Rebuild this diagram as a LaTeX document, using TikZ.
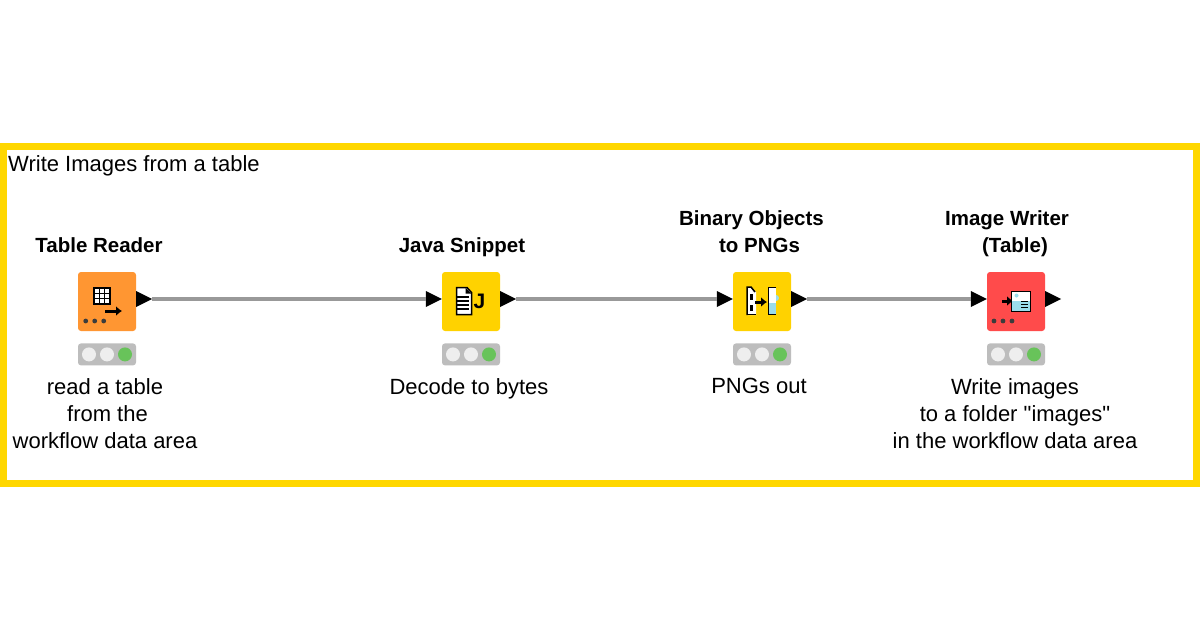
\documentclass[tikz,border=0pt]{standalone}
\usepackage{fontspec}
\setmainfont{Liberation Sans}[Ligatures=TeXOff]
\usetikzlibrary{positioning,arrows.meta}
\definecolor{frameyellow}{HTML}{FFD700}
\definecolor{sourceorange}{HTML}{FF9632}
\definecolor{manipyellow}{HTML}{FFD200}
\definecolor{sinkred}{HTML}{FF4B4B}
\definecolor{statusgray}{HTML}{BDBDBD}
\definecolor{lampgray}{HTML}{EEEEEE}
\definecolor{lampgreen}{HTML}{68C35A}
\definecolor{linkgray}{HTML}{999999}
\definecolor{iconblue}{HTML}{9BDCEB}
\definecolor{dotgray}{HTML}{3C3C3C}
\tikzset{
  knode/.style={minimum width=58pt,minimum height=59pt,inner sep=0pt,rounded corners=3pt},
  kstatus/.style={fill=statusgray,minimum width=58pt,minimum height=22pt,inner sep=0pt,rounded corners=3pt},
  lamp/.style={circle,minimum size=14pt,inner sep=0pt,fill=lampgray},
  greenlamp/.style={lamp,fill=lampgreen},
  link/.style={draw=linkgray,line width=3.6pt},
  port/.style={fill=black},
  title/.style={font=\fontsize{20.5}{27}\selectfont\bfseries,align=center,anchor=base},
  note/.style={font=\fontsize{22}{27}\selectfont,align=center,anchor=north},
  idot/.style={fill=dotgray},
  iarrow/.style={line width=3pt,-{Latex[length=6pt,width=10pt]}},
}
% status lamps below a node
\newcommand{\statusbar}[2]{%
  \node[kstatus,below=12pt of #1] (#2) {};
  \node[lamp] (#2a) at ([xshift=-18pt]#2.center) {};
  \node[lamp] (#2b) at (#2.center) {};
  \node[greenlamp] (#2c) at ([xshift=18pt]#2.center) {};
}
% output port on the right of a node, input port on the left
\newcommand{\outport}[2]{%
  \coordinate (#2) at ([xshift=16pt,yshift=2.5pt]#1.east);
  \fill[port] ([yshift=10.5pt]#1.east) -- (#2) -- ([yshift=-5.5pt]#1.east) -- cycle;
}
\newcommand{\inport}[2]{%
  \coordinate (#2) at ([xshift=-16pt,yshift=2.5pt]#1.west);
  \fill[port] ([xshift=-16pt,yshift=10.5pt]#1.west) -- ([yshift=2.5pt]#1.west) -- ([xshift=-16pt,yshift=-5.5pt]#1.west) -- cycle;
}
\begin{document}
\begin{tikzpicture}[x=1pt,y=-1pt]
  \useasboundingbox (0,0) rectangle (1200,630);
  \fill[white] (0,0) rectangle (1200,630);
  \draw[frameyellow,line width=7pt] (3.5,146.5) rectangle (1196.5,483.5); %Workflow annotation
  \node[font=\fontsize{22}{27}\selectfont,anchor=base west,inner sep=0pt] (caption) at (8,171) {Write Images from a table};

  \node[knode,fill=sourceorange] (reader) at (107,301.5) {};
  \node[knode,fill=manipyellow] (snippet) at (471,301.5) {};
  \node[knode,fill=manipyellow] (topng) at (762,301.5) {};
  \node[knode,fill=sinkred] (writer) at (1016,301.5) {};

  \statusbar{reader}{readerstat}
  \statusbar{snippet}{snippetstat}
  \statusbar{topng}{topngstat}
  \statusbar{writer}{writerstat}

  \outport{reader}{readerout}
  \inport{snippet}{snippetin}
  \outport{snippet}{snippetout}
  \inport{topng}{topngin}
  \outport{topng}{topngout}
  \inport{writer}{writerin}
  \outport{writer}{writerout}

  \draw[link] (readerout) -- (snippetin);
  \draw[link] (snippetout) -- (topngin);
  \draw[link] (topngout) -- (writerin);

  %Node names
  \node[title] (readername) at (99,252) {Table Reader};
  \node[title] (snippetname) at (462,252) {Java Snippet};
  \node[title] (topngname) at (751.5,252) {Binary Objects\\\hspace*{16pt}to PNGs};
  \node[title] (writername) at (1007,252) {Image Writer\\\hspace*{16pt}(Table)};

  %Node notes
  \node[note] (readernote) at (105,375) {read a table\\\hspace*{5pt}from the\\workflow data area};
  \node[note] (snippetnote) at (469,375) {Decode to bytes};
  \node[note] (topngnote) at (759,375) {PNGs out};
  \node[note] (writernote) at (1015,375) {Write images\\to a folder "images"\\in the workflow data area};

  %Table Reader icon
  \fill (93,287) rectangle (111,305);
  \foreach \i in {0,1,2}
    \foreach \j in {0,1,2}
      \fill[white] (94.6+5.2*\i,288.6+5.2*\j) rectangle +(4.4,4.4);
  \draw[iarrow] (105,311) -- (122,311);
  \foreach \x in {85.7,94.7,103.7}
    \fill[idot] (\x,321) circle (2.4);

  %Java Snippet icon
  \draw[fill=white,line width=1.5pt] (456.5,287.5) -- (467,287.5) -- (471.5,292.5) -- (471.5,314.5) -- (456.5,314.5) -- cycle;
  \fill (465.5,287.5) -- (471.5,293.5) -- (465.5,293.5) -- cycle;
  \foreach \y in {297,301,305,309}
    \draw[line width=1.7pt] (457,\y) -- (469,\y);
  \node[font=\fontsize{21}{21}\selectfont\bfseries,inner sep=0pt,text=black] (jletter) at (479.5,301.5) {J};

  %Binary Objects to PNGs icon
  \fill[white] (747,287) -- (751,287) -- (756,292) -- (756,315) -- (747,315) -- cycle;
  \draw[line width=1.5pt] (747,315) -- (747,287) -- (751,287) -- (755,292);
  \draw[line width=1.5pt] (747,314.5) -- (756,314.5);
  \fill (750,293.5) rectangle (753,300);
  \fill (750,304.5) rectangle (753,311);
  \draw[iarrow] (755,302) -- (767,302);
  \fill[iconblue] (769,288) rectangle (776,314);
  \fill[white] (769,288) rectangle (776,303);
  \fill[iconblue] (776,295) arc (90:270:-3) -- cycle;
  \draw[line width=1.5pt] (776,287.5) -- (768.5,287.5) -- (768.5,314.5) -- (776,314.5);

  %Image Writer icon
  \draw[iarrow] (1002,301) -- (1013,301);
  \fill[white] (1011.5,291) rectangle (1031,312);
  \fill[iconblue] (1012,301) rectangle (1030.5,311.5);
  \fill[iconblue] (1016.5,295.5) circle (2);
  \foreach \y in {301.5,304.5,307.5}
    \draw[line width=1.4pt] (1021,\y) -- (1028,\y);
  \draw[line width=1.6pt] (1011.5,291.5) rectangle (1030.5,311.5);
  \foreach \x in {994,1003,1012}
    \fill[idot] (\x,321) circle (2.4);
\end{tikzpicture}
\end{document}
